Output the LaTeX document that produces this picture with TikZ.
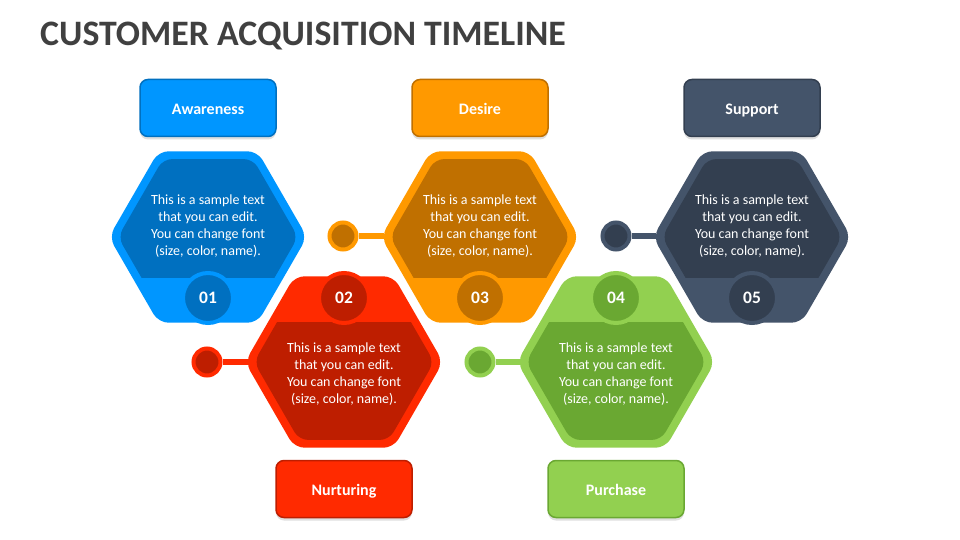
\documentclass[tikz,border=0pt]{standalone}
\usepackage{fontspec}
\setmainfont{Carlito}
\usetikzlibrary{shadows}
\definecolor{bluO}{HTML}{0096FF}
\definecolor{bluI}{HTML}{0070C0}
\definecolor{oraO}{HTML}{FF9900}
\definecolor{oraI}{HTML}{C07000}
\definecolor{redO}{HTML}{FF2A00}
\definecolor{redI}{HTML}{BE1E00}
\definecolor{grnO}{HTML}{92D050}
\definecolor{grnI}{HTML}{6AA832}
\definecolor{slaO}{HTML}{44546A}
\definecolor{slaI}{HTML}{333F50}
\definecolor{titlecol}{HTML}{404040}
\newcommand{\hexpathX}[3]{({#1+#3},{#2}) -- ({#1+#3/2},{#2-0.866*#3}) -- ({#1-#3/2},{#2-0.866*#3}) -- ({#1-#3},{#2}) -- ({#1-#3/2},{#2+0.866*#3}) -- ({#1+#3/2},{#2+0.866*#3}) -- cycle}
% #1 id, #2 cx, #3 cy, #4 outer, #5 inner, #6 clip y1, #7 clip y2
\newcommand{\stageX}[7]{%
  \coordinate (h#1) at (#2,#3);
  \fill[#4, rounded corners=10pt] \hexpathX{#2}{#3}{99};
  \begin{scope}
    \clip ({#2-110},#6) rectangle ({#2+110},#7);
    \fill[#5, rounded corners=9pt] \hexpathX{#2}{#3}{90};
  \end{scope}
  \node[numcirc, fill=#5, draw=#4] (n#1) at (#2,298) {0#1};
}
\tikzset{
  numcirc/.style={circle, minimum size=50pt, inner sep=0pt, line width=4pt, text=white, font=\fontsize{17.5}{20}\selectfont\bfseries},
  dotnode/.style={circle, minimum size=27pt, inner sep=0pt, line width=4pt},
  bodytext/.style={align=center, text=white, font=\fontsize{14}{17}\selectfont, inner sep=0pt},
  labelbox/.style={rectangle, rounded corners=8pt, minimum width=136pt, minimum height=57pt, line width=1.5pt, text=white, text height=12.6pt, text depth=0pt, font=\fontsize{16}{18}\selectfont\bfseries, drop shadow={opacity=0.25, shadow xshift=0pt, shadow yshift=-3pt}},
}
\begin{document}
\begin{tikzpicture}[x=1pt, y=-1pt]
\useasboundingbox (0,0) rectangle (960,540);
\fill[white] (0,0) rectangle (960,540);
\node[anchor=base west, inner sep=0pt, text=titlecol, font=\fontsize{35.8}{40}\selectfont\bfseries] (title) at (40,46) {CUSTOMER ACQUISITION TIMELINE};

% connector dots
\node[dotnode, fill=oraI, draw=oraO] (d3) at (343,236) {};
\node[dotnode, fill=slaI, draw=slaO] (d5) at (616,236) {};
\node[dotnode, fill=redI, draw=redO] (d2) at (207,362) {};
\node[dotnode, fill=grnI, draw=grnO] (d4) at (480,362) {};
\coordinate (hl3) at (384,236);
\coordinate (hl5) at (656,236);
\coordinate (hl2) at (248,362);
\coordinate (hl4) at (520,362);
\draw[oraO, line width=6.5pt] (d3) -- (hl3);
\draw[slaO, line width=6.5pt] (d5) -- (hl5);
\draw[redO, line width=6.5pt] (d2) -- (hl2);
\draw[grnO, line width=6.5pt] (d4) -- (hl4);

% hexagons
\stageX{1}{208}{237}{bluO}{bluI}{120}{277}
\stageX{3}{480}{237}{oraO}{oraI}{120}{277}
\stageX{5}{752}{237}{slaO}{slaI}{120}{277}
\stageX{2}{344}{362}{redO}{redI}{322}{470}
\stageX{4}{616}{362}{grnO}{grnI}{322}{470}

% texts
\node[bodytext] (t1) at (208,226) {This is a sample text\\that you can edit.\\You can change font\\(size, color, name).};
\node[bodytext] (t3) at (480,226) {This is a sample text\\that you can edit.\\You can change font\\(size, color, name).};
\node[bodytext] (t5) at (752,226) {This is a sample text\\that you can edit.\\You can change font\\(size, color, name).};
\node[bodytext] (t2) at (344,374) {This is a sample text\\that you can edit.\\You can change font\\(size, color, name).};
\node[bodytext] (t4) at (616,374) {This is a sample text\\that you can edit.\\You can change font\\(size, color, name).};

% labels
\node[labelbox, fill=bluO, draw=bluI] (l1) at (208,108) {Awareness};
\node[labelbox, fill=oraO, draw=oraI] (l3) at (480,108) {Desire};
\node[labelbox, fill=slaO, draw=slaI] (l5) at (752,108) {Support};
\node[labelbox, fill=redO, draw=redI] (l2) at (344,489) {Nurturing};
\node[labelbox, fill=grnO, draw=grnI] (l4) at (616,489) {Purchase};
\end{tikzpicture}
\end{document}
